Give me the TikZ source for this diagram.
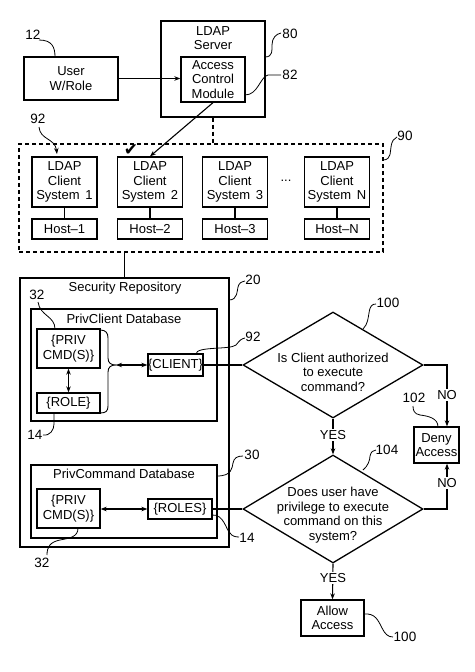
\documentclass[tikz,border=0pt]{standalone}
\usepackage{fontspec}
\setmainfont{Liberation Sans}
\newfontfamily\dejavu{DejaVu Sans}
\usetikzlibrary{arrows.meta,shapes.geometric}
\begin{document}
\begin{tikzpicture}[x=1pt,y=-1pt, line width=1.1pt,
 box/.style={draw, line width=1.3pt, inner sep=0pt, align=center, font=\fontsize{13}{14.5}\selectfont},
 txt/.style={font=\fontsize{13}{14.5}\selectfont, align=center, inner sep=0pt},
 lbl/.style={font=\fontsize{13.5}{15}\selectfont, inner sep=0pt},
 lead/.style={line width=0.8pt},
 dbox/.style={draw, line width=1.1pt, dash pattern=on 4pt off 3pt},
 dia/.style={diamond, draw, line width=1.3pt, inner sep=0pt},
 yn/.style={font=\fontsize{13}{14.5}\selectfont, fill=white, inner sep=1pt},
 arr/.style={-{Stealth[length=6pt,width=4.5pt]}},
 darr/.style={{Stealth[length=6pt,width=4.5pt]}-{Stealth[length=6pt,width=4.5pt]}}
]
\useasboundingbox (0,0) rectangle (474,672);

% top part
\node[box, minimum width=94pt, minimum height=43pt] (user) at (71,78.5) {User\\W/Role};
\node[box, minimum width=104pt, minimum height=96pt] (server) at (213,69) {};
\node[txt] (servertxt) at (213,38) {LDAP\\Server};
\node[box, minimum width=64pt, minimum height=45pt] (acm) at (213,79.5) {Access\\Control\\Module};
\draw[arr] (user.east) -- (user.east -| acm.west);

\node[lbl] (l12) at (33,35) {12};
\draw[lead] (39,40) .. controls (52,40) and (55,47) .. (55,57);
\node[lbl] (l80) at (290,34) {80};
\draw[lead] (265,57) .. controls (273,57) and (272,50) .. (272,45) .. controls (272,38) and (276,34) .. (281,33);
\node[lbl] (l82) at (290,75) {82};
\draw[lead] (245,95) .. controls (258,95) and (260,77) .. (268,75) -- (281,75);

% client systems
\node[dbox, minimum width=364pt, minimum height=108pt] (grp) at (201,198) {};
\node[box, minimum width=65pt, minimum height=50pt] (c1) at (64.5,182) {LDAP\\Client\\System\, 1};
\node[box, minimum width=65pt, minimum height=50pt] (c2) at (150,182) {LDAP\\Client\\System\, 2};
\node[box, minimum width=65pt, minimum height=50pt] (c3) at (235,182) {LDAP\\Client\\System\, 3};
\node[box, minimum width=65pt, minimum height=50pt] (cn) at (337,182) {LDAP\\Client\\System\, N};
\node[box, minimum width=65pt, minimum height=20pt] (h1) at (64.5,229) {Host--1};
\node[box, minimum width=65pt, minimum height=20pt] (h2) at (150,229) {Host--2};
\node[box, minimum width=65pt, minimum height=20pt] (h3) at (235,229) {Host--3};
\node[box, minimum width=65pt, minimum height=20pt] (hn) at (337,229) {Host--N};
\draw (c1) -- (h1); \draw (c2) -- (h2); \draw (c3) -- (h3); \draw (cn) -- (hn);
\node[txt] (dots) at (286,181) {...};
\node[font=\dejavu\fontsize{17}{17}\selectfont, inner sep=0pt] (chk) at (131,150) {✔};
\draw[arr] (acm.south) -- (c2.north);
\draw[dbox] (server.south) -- (server.south |- grp.north);

\node[lbl] (l92a) at (38,119) {92};
\draw[lead, arr] (39,127) .. controls (40,140) and (55,138) .. (57,154);
\node[lbl] (l90) at (405,136) {90};
\draw[lead] (383,160) .. controls (392,160) and (390,150) .. (391,147) .. controls (392,140) and (394,139) .. (397,137);

% security repository
\node[box, minimum width=209pt, minimum height=269pt] (sr) at (124.5,412.5) {};
\node[txt] (srtxt) at (125,288) {Security Repository};
\draw (sr.north |- grp.south) -- (sr.north);
\node[lbl] (l20) at (253,280) {20};
\draw[lead] (229,300) .. controls (238,300) and (237,290) .. (238,287) .. controls (239,283) and (241,282) .. (245,281);

\node[box, minimum width=186pt, minimum height=112pt] (pcdb) at (124,365) {};
\node[txt] (pcdbtxt) at (124,319) {PrivClient Database};
\node[box, minimum width=63pt, minimum height=39pt] (priv1) at (68.5,348.5) {\{PRIV\\CMD(S)\}};
\node[box, minimum width=63pt, minimum height=20pt] (role) at (68.5,403) {\{ROLE\}};
\node[box, minimum width=55pt, minimum height=22pt] (client) at (175.5,365) {\{CLIENT\}};
\draw[darr] (priv1.south) -- (role.north);
\coordinate (btip) at (116,365);
\draw[line width=0.9pt] (100,330) .. controls (106,330) and (108,333) .. (108,338) -- (108,358) .. controls (108,363) and (111,365) .. (btip) .. controls (111,365) and (108,367) .. (108,372) -- (108,406) .. controls (108,411) and (106,413) .. (100,413);
\draw[darr] (btip) -- (client.west);

\node[lbl] (l32a) at (37,295) {32};
\draw[lead] (38,302) .. controls (40,316) and (55,316) .. (55,329);
\node[lbl] (l92b) at (253,337) {92};
\draw[lead] (196,354) .. controls (196,346) and (230,350) .. (236,345) .. controls (240,340) and (241,339) .. (245,338);
\node[lbl] (l14a) at (35,435) {14};
\draw[lead] (43,435) .. controls (50,436) and (54,430) .. (54,424) -- (54,413);

\node[box, minimum width=186pt, minimum height=73pt] (pmdb) at (124,501.5) {};
\node[txt] (pmdbtxt) at (124,474) {PrivCommand Database};
\node[box, minimum width=63pt, minimum height=39pt] (priv2) at (68.5,508.5) {\{PRIV\\CMD(S)\}};
\node[box, minimum width=64pt, minimum height=20pt] (roles) at (180,509) {\{ROLES\}};
\draw[darr] (priv2.east |- roles.west) -- (roles.west);

\node[lbl] (l30) at (252,455) {30};
\draw[lead] (217,476) .. controls (232,476) and (232,468) .. (233,463) .. controls (234,458) and (237,456) .. (243,456);
\node[lbl] (l14b) at (247,538) {14};
\draw[lead] (212,515) .. controls (224,514) and (226,530) .. (230,533) .. controls (232,536) and (235,537) .. (239,537);
\node[lbl] (l32b) at (42,563) {32};
\draw[lead] (78,528) .. controls (78,537) and (70,538) .. (60,540) .. controls (50,542) and (47,547) .. (47,555);

% decisions
\node[dia, minimum width=180pt, minimum height=106pt] (d1) at (333,365) {};
\node[txt] (d1txt) at (333,372) {Is Client authorized\\to execute\\command?};
\node[dia, minimum width=180pt, minimum height=108pt] (d2) at (333,509) {};
\node[txt] (d2txt) at (333,515) {Does user have\\privilege to execute\\command on this\\system?};
\node[box, minimum width=45pt, minimum height=36pt] (deny) at (436.5,445) {Deny\\Access};
\node[box, minimum width=63pt, minimum height=36pt] (allow) at (332.5,618) {Allow\\Access};
\coordinate (nox) at (447,0);

\draw (client.east) -- (d1.west);
\draw (roles.east) -- (d2.west);
\draw[arr] (d1.east) -| (nox |- deny.north);
\draw[arr] (d2.east) -| (nox |- deny.south);
\draw[arr] (d1.south) -- (d2.north);
\draw[arr] (d2.south) -- (allow.north);
\node[yn] (no1) at (447,395) {NO};
\node[yn] (no2) at (447,483) {NO};
\node[yn] (yes1) at (333,435) {YES};
\node[yn] (yes2) at (333,578) {YES};

\node[lbl] (l100a) at (388,303) {100};
\draw[lead] (363,329) .. controls (368,324) and (368,318) .. (369,313) .. controls (370,306) and (372,304) .. (376,304);
\node[lbl] (l102) at (414,398) {102};
\draw[lead] (438,427) .. controls (438,418) and (428,416) .. (420,415) .. controls (414,414) and (413,410) .. (413,406);
\node[lbl] (l104) at (387,450) {104};
\draw[lead] (363,470) .. controls (368,466) and (370,460) .. (370,456) .. controls (371,452) and (373,450) .. (376,450);
\node[lbl] (l100b) at (405,637) {100};
\draw[lead] (364,614) .. controls (375,613) and (378,620) .. (382,628) .. controls (385,634) and (388,637) .. (393,637);
\end{tikzpicture}
\end{document}
